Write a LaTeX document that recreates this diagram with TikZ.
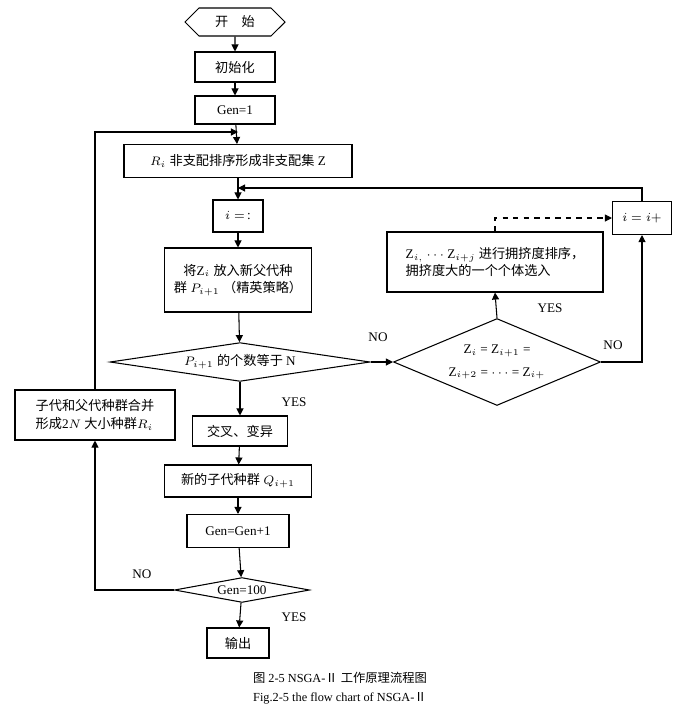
\documentclass[tikz,border=0pt]{standalone}
\usepackage{fontspec}
\setmainfont{Liberation Serif}
\newfontfamily\cjk{Noto Sans CJK SC}
\usetikzlibrary{shapes.geometric,shapes.symbols,arrows.meta}
\begin{document}
\begin{tikzpicture}[x=0.02cm,y=-0.02cm,font=\fontsize{7.5}{10}\selectfont,
  box/.style={draw,semithick,minimum width=#1*0.02cm,inner sep=1pt},
  arr/.style={semithick,-{Triangle[length=4pt,width=4pt]}},
  lab/.style={font=\fontsize{7.5}{9}\selectfont}]
\useasboundingbox (0,0) rectangle (681,717);
\node[box=100,signal,signal to=west and east,minimum height=28*0.02cm] (start) at (235,22) {\cjk 开\quad 始};
\node[box=80,minimum height=30*0.02cm] (init) at (235,67) {\cjk 初始化};
\node[box=80,minimum height=28*0.02cm] (gen1) at (235,110) {Gen=1};
\node[box=228,minimum height=33*0.02cm] (ri) at (238,161) {$R_i$ {\cjk 非支配排序形成非支配集} Z};
\node[box=50,minimum height=32*0.02cm] (ieq) at (238,216) {$i=$\,:};
\node[box=147,minimum height=64*0.02cm,align=center] (put) at (238,280) {{\cjk 将}Z$_i$ {\cjk 放入新父代种}\\{\cjk 群} $P_{i+1}$ {\cjk （精英策略）}};
\node[draw,semithick,diamond,aspect=4.56,minimum width=260*0.02cm,inner sep=0pt] (pd) at (240,362) {$P_{i+1}$ {\cjk 的个数等于} N};
\node[box=95,minimum height=30*0.02cm] (cross) at (240,431) {\cjk 交叉、变异};
\node[box=147,minimum height=32*0.02cm] (newq) at (238,481) {{\cjk 新的子代种群} $Q_{i+1}$};
\node[box=102,minimum height=33*0.02cm] (genp) at (238,531) {Gen=Gen+1};
\node[draw,semithick,diamond,aspect=3.07,minimum width=135*0.02cm,inner sep=0pt] (gd) at (242,590) {Gen=100};
\node[box=62,minimum height=30*0.02cm] (out) at (238,643) {\cjk 输出};
\node[box=160,minimum height=50*0.02cm,align=left] (merge) at (95,415) {{\cjk 子代和父代种群合并}\\{\cjk 形成}2$N$ {\cjk 大小种群}$R_i$};
\node[draw,semithick,diamond,aspect=1.85,minimum width=207*0.02cm,inner sep=0pt,align=center] (zd) at (497,362) {Z$_i$ = Z$_{i+1}$ =\\[3pt]Z$_{i+2}$ = $\cdots$ = Z$_{i+}$};
\node[box=216,minimum height=60*0.02cm,align=left] (zb) at (495,262) {Z$_{i,}$ $\cdots$ Z$_{i+j}$ {\cjk 进行拥挤度排序，}\\{\cjk 拥挤度大的一个个体选入}};
\node[box=59,minimum height=33*0.02cm] (inc) at (642,218) {$i=i+$};
\coordinate (j1) at (238,132);
\coordinate (j2) at (238,188);
\draw[arr] (start) -- (init);
\draw[arr] (init) -- (gen1);
\draw[arr] (gen1) -- (ri);
\draw[arr] (ri) -- (ieq);
\draw[arr] (ieq) -- (put);
\draw[arr] (put) -- (pd);
\draw[arr] (pd) -- (cross);
\draw[arr] (cross) -- (newq);
\draw[arr] (newq) -- (genp);
\draw[arr] (genp) -- (gd);
\draw[arr] (gd) -- (out);
\draw[arr] (pd.east) -- (zd.west);
\draw[arr] (zd.north) -- (zb.south);
\draw[arr] (zd.east) -| (inc.south);
\draw[arr,dashed] (zb.north) |- (inc.west);
\draw[arr] (inc.north) |- (j2);
\draw[arr] (gd.west) -| (merge.south);
\draw[arr] (merge.north) |- (j1);
\node[lab] at (378,337) {NO};
\node[lab] at (294,402) {YES};
\node[lab] at (550,308) {YES};
\node[lab] at (613,345) {NO};
\node[lab] at (142,574) {NO};
\node[lab] at (294,617) {YES};
\node[font=\fontsize{7}{9}\selectfont] at (340,678) {{\cjk 图} 2-5 NSGA-{\cjk Ⅱ} {\cjk 工作原理流程图}};
\node[font=\fontsize{7}{9}\selectfont] at (340,698) {Fig.2-5 the flow chart of NSGA-{\cjk Ⅱ}};
\end{tikzpicture}
\end{document}
